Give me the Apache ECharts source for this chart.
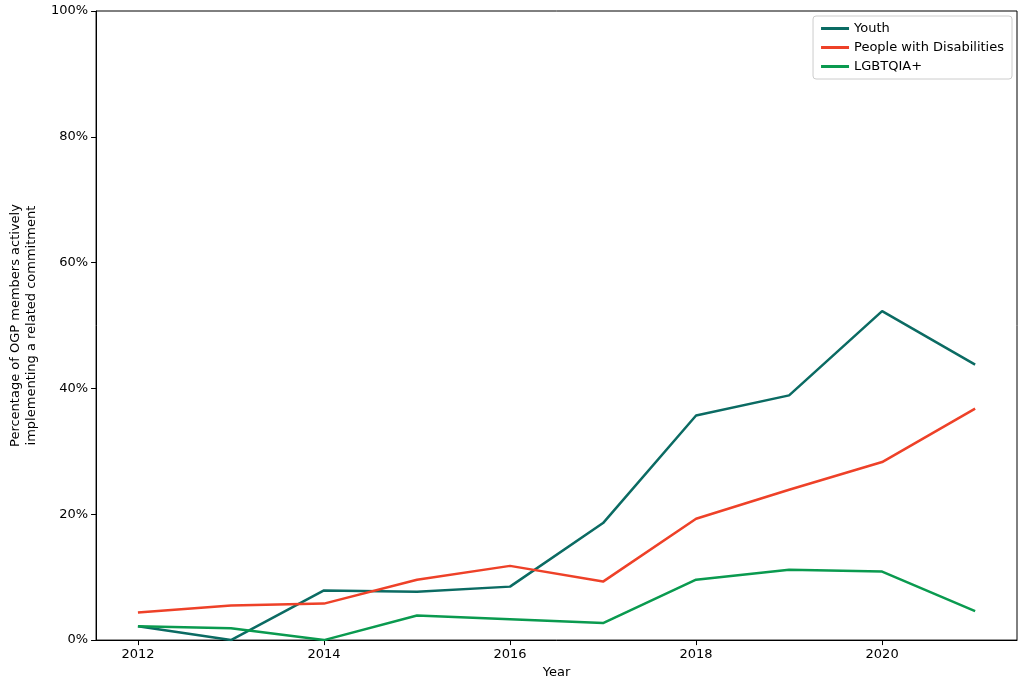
<!DOCTYPE html>
<html><head><meta charset="utf-8">
<script src="https://cdn.jsdelivr.net/npm/echarts@6/dist/echarts.min.js"></script>
<style>html,body{margin:0;padding:0;background:#fff}#c{width:1024px;height:684px}</style>
</head><body><div id="c"></div>
<script>
const years = [2012,2013,2014,2015,2016,2017,2018,2019,2020,2021];
const youth = [2.2,0,7.9,7.7,8.5,18.6,35.7,38.9,52.3,43.8];
const disab = [4.4,5.5,5.8,9.6,11.8,9.3,19.3,23.9,28.3,36.8];
const lgbt = [2.2,1.9,0,3.9,3.3,2.7,9.6,11.2,10.9,4.6];
const xTicks = [2012,2014,2016,2018,2020];
const names = ['Youth','People with Disabilities','LGBTQIA+'];
const colors = ['#0b6b63','#ee4128','#0a9a4f'];
const pair = a => years.map((y,i)=>[y,a[i]]);
const font = 'DejaVu Sans';
const chart = echarts.init(document.getElementById('c'));
chart.setOption({
  animation:false,
  textStyle:{fontFamily:font},
  grid:{left:90,right:7,top:11,bottom:40,show:true,borderColor:'#000',borderWidth:1},
  legend:{top:16,right:12,orient:'vertical',data:names,itemWidth:28,itemHeight:3,itemGap:6,
    textStyle:{fontSize:13,color:'#000',fontFamily:font},borderColor:'#ccc',borderWidth:1,borderRadius:3,padding:[6,8],
    icon:'rect'},
  xAxis:{type:'value',min:2011.55,max:2021.45,name:'Year',nameLocation:'middle',nameGap:22,
    nameTextStyle:{fontSize:13,color:'#000'},splitLine:{show:false},
    axisLine:{lineStyle:{color:'#000'}},
    axisTick:{customValues:xTicks,length:5,lineStyle:{color:'#000'}},
    axisLabel:{customValues:xTicks,fontSize:13,color:'#000',formatter:v=>String(v)}},
  yAxis:{type:'value',min:0,max:100,interval:20,name:'Percentage of OGP members actively\nimplementing a related commitment',
    nameLocation:'middle',nameGap:55,nameTextStyle:{fontSize:13,color:'#000',lineHeight:16},
    splitLine:{show:false},axisLine:{show:true,lineStyle:{color:'#000'}},
    axisTick:{show:true,length:5,lineStyle:{color:'#000'}},
    axisLabel:{fontSize:13,color:'#000',formatter:'{value}%'}},
  series:[youth,disab,lgbt].map((a,i)=>({name:names[i],type:'line',data:pair(a),showSymbol:false,
    lineStyle:{width:2.5,color:colors[i]},itemStyle:{color:colors[i]}}))
});
</script></body></html>
